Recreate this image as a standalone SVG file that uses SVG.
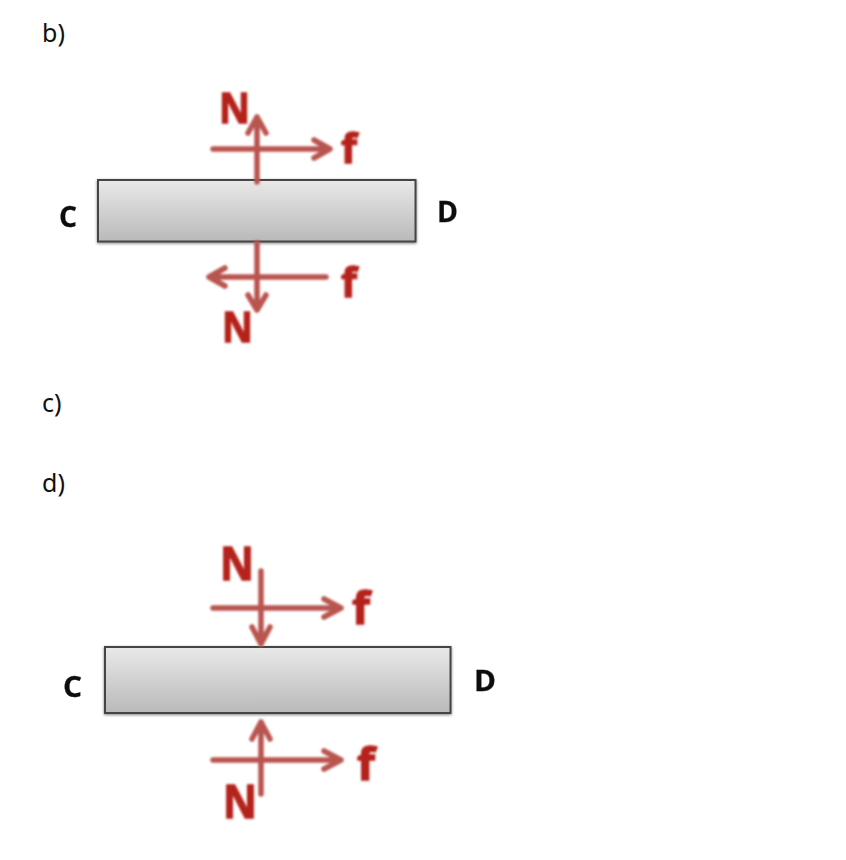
<svg xmlns="http://www.w3.org/2000/svg" width="846" height="860" viewBox="0 0 846 860">
<style>
.h{font:25px "Noto Sans","Open Sans",sans-serif;fill:#111}
.r{font-family:"Open Sans","Noto Sans",sans-serif;font-weight:700;fill:#b5201a;stroke:#b5201a;stroke-width:1.3}
.k{font-family:"Open Sans","Noto Sans",sans-serif;font-weight:700;fill:#111;stroke:#111;stroke-width:.3;font-size:28px}
.bar{fill:url(#g);stroke:#444;stroke-width:2;filter:url(#s)}
.a{fill:none;stroke:#b9544f;stroke-width:5.5;stroke-linejoin:round;stroke-linecap:round}
.soft{filter:url(#b)}
.soft2{filter:url(#c)}
</style>
<defs>
<linearGradient id="g" x1="0" y1="0" x2="0" y2="1"><stop offset="0" stop-color="#e9e9e9"/><stop offset="1" stop-color="#b9b9b9"/></linearGradient>
<filter id="s" x="-5%" y="-20%" width="110%" height="140%"><feGaussianBlur in="SourceAlpha" stdDeviation="1.4"/><feOffset dy="1"/><feComponentTransfer><feFuncA type="linear" slope=".5"/></feComponentTransfer><feMerge><feMergeNode/><feMergeNode in="SourceGraphic"/></feMerge></filter>
<filter id="b" x="-20%" y="-20%" width="140%" height="140%"><feGaussianBlur stdDeviation="0.8"/></filter>
<filter id="c" x="-20%" y="-20%" width="140%" height="140%"><feGaussianBlur stdDeviation="0.5"/></filter>
</defs>
<text class="h" x="42" y="42">b)</text>
<text class="h" x="42" y="412">c)</text>
<text class="h" x="42" y="492">d)</text>
<g id="beam-b" class="soft2"><rect class="bar" x="98" y="180" width="317.500" height="61.5"/><text class="k" x="59" y="226.500" textLength="18" lengthAdjust="spacingAndGlyphs">C</text><text class="k" x="437" y="221.500" textLength="21" lengthAdjust="spacingAndGlyphs">D</text></g>
<g id="beam-d" class="soft2"><rect class="bar" x="105" y="647" width="345.500" height="66"/><text class="k" x="63" y="696.500" textLength="19" lengthAdjust="spacingAndGlyphs">C</text><text class="k" x="474" y="691" textLength="22" lengthAdjust="spacingAndGlyphs">D</text></g>
<g id="connectors" class="soft">
<path class="a" d="M257 182V117M248 133L257 117L266 133"/>
<path class="a" d="M213 149H330M314 140L330 149L314 158"/>
<path class="a" d="M257 243V310M248 295L257 310L266 295"/>
<path class="a" d="M326 277H209M225 268L209 277L225 286"/>
<path class="a" d="M261 571V644M252 627L261 644L270 627"/>
<path class="a" d="M213 608H341M324 599L341 608L324 617"/>
<path class="a" d="M261 794V722M252 739L261 722L270 739"/>
<path class="a" d="M213 760H341M324 751L341 760L324 769"/>
</g>
<g id="labels-b" class="soft">
<text class="r" x="219" y="122.500" font-size="41" textLength="31" lengthAdjust="spacingAndGlyphs">N</text>
<text class="r" x="341" y="163" font-size="41" textLength="16" lengthAdjust="spacingAndGlyphs">f</text>
<text class="r" x="341" y="296.500" font-size="41" textLength="16" lengthAdjust="spacingAndGlyphs">f</text>
<text class="r" x="222" y="341.500" font-size="41" textLength="31" lengthAdjust="spacingAndGlyphs">N</text>
</g>
<g id="labels-d" class="soft">
<text class="r" x="220" y="580" font-size="46" textLength="34" lengthAdjust="spacingAndGlyphs">N</text>
<text class="r" x="352" y="623.500" font-size="45" textLength="18" lengthAdjust="spacingAndGlyphs">f</text>
<text class="r" x="357" y="779.500" font-size="45" textLength="18" lengthAdjust="spacingAndGlyphs">f</text>
<text class="r" x="223" y="818" font-size="46" textLength="34" lengthAdjust="spacingAndGlyphs">N</text>
</g>
</svg>
